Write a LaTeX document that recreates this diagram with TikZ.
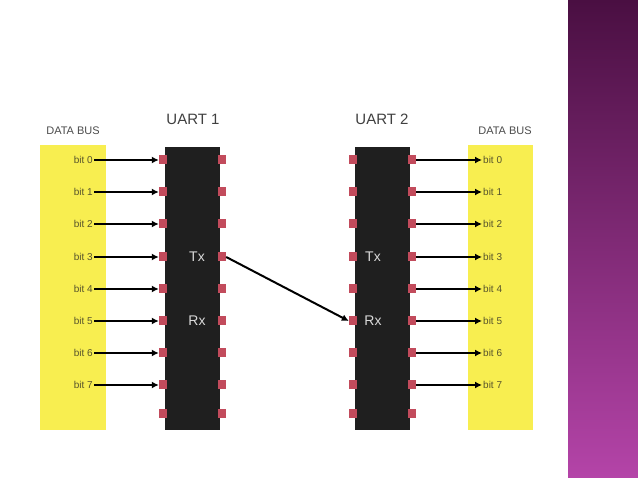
\documentclass[tikz,border=0pt]{standalone}
\usepackage{fontspec}
\setmainfont{Liberation Sans}
\usetikzlibrary{arrows.meta}
\begin{document}
\begin{tikzpicture}[x=1pt,y=-1pt,
  pin/.style={fill=pinred,draw=none,minimum width=8pt,minimum height=9pt,inner sep=0pt},
  bitlbl/.style={font=\fontsize{10}{11}\selectfont,text=olive!50!black,inner sep=1pt},
  chiplbl/.style={font=\fontsize{14}{15}\selectfont,text=gray!30},
  title/.style={font=\fontsize{15}{17}\selectfont,text=black!75},
  bustitle/.style={font=\fontsize{11}{12}\selectfont,text=black!70},
  arr/.style={-{Latex[length=7pt,width=7pt]},line width=2pt}]
\definecolor{pinred}{HTML}{C24B5C}
\definecolor{busy}{HTML}{F8EE50}
\definecolor{ptop}{HTML}{4A0F42}
\definecolor{pbot}{HTML}{B444A8}
\useasboundingbox (0,0) rectangle (638,478);
\fill[white] (0,0) rectangle (638,478);
\shade[top color=ptop,bottom color=pbot] (568,0) rectangle (638,478);
% buses
\fill[busy] (40,145) rectangle (106,430);
\fill[busy] (468,145) rectangle (533,430);
\node[bustitle] (db1) at (73,131) {DATA BUS};
\node[bustitle] (db2) at (505,131) {DATA BUS};
% chips
\fill[black!88] (165,147) rectangle (220,430);
\fill[black!88] (355,147) rectangle (410,430);
\node[title] (u1) at (193,119) {UART 1};
\node[title] (u2) at (382,119) {UART 2};
\foreach \i/\y in {1/160,2/192,3/224,4/257,5/289,6/321,7/353,8/385,9/414}{
  \node[pin] (aL\i) at (163,\y) {};
  \node[pin] (aR\i) at (222,\y) {};
  \node[pin] (bL\i) at (353,\y) {};
  \node[pin] (bR\i) at (412,\y) {};
}
\foreach \i/\y in {1/160,2/192,3/224,4/257,5/289,6/321,7/353,8/385}{
  \pgfmathtruncatemacro{\b}{\i-1}
  \node[bitlbl,anchor=east] (l\i) at (94,\y) {bit \b};
  \node[bitlbl,anchor=west] (r\i) at (482,\y) {bit \b};
  \draw[arr] (l\i.east) -- (aL\i.west);
  \draw[arr] (bR\i.east) -- (r\i.west);
}
\node[chiplbl] (tx1) at (197,257) {Tx};
\node[chiplbl] (rx1) at (197,321) {Rx};
\node[chiplbl] (tx2) at (373,257) {Tx};
\node[chiplbl] (rx2) at (373,321) {Rx};
\draw[arr] (aR4.east) -- (bL6.west);
\end{tikzpicture}
\end{document}
